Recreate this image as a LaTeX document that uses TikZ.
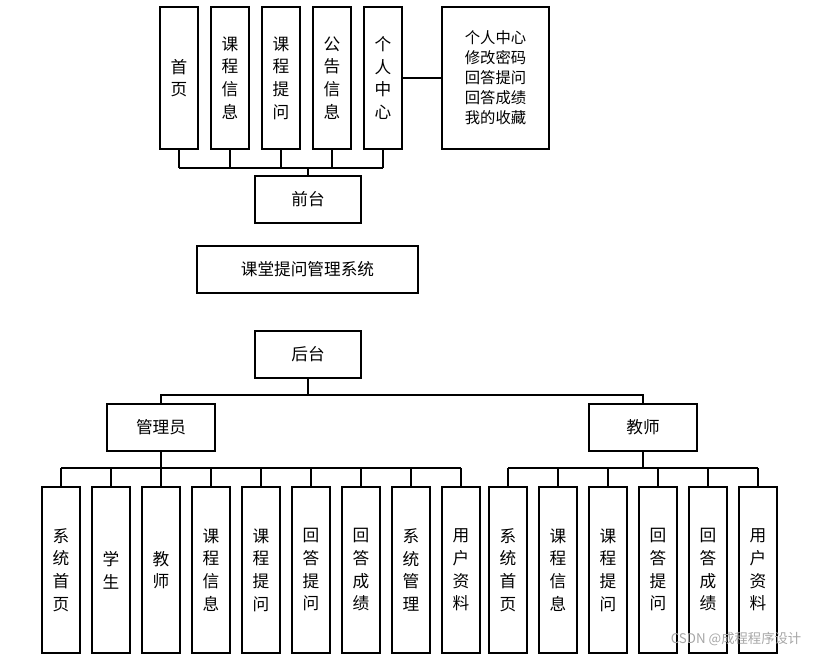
\documentclass[tikz,border=0pt]{standalone}
\usepackage{fontspec}
\newfontfamily\cjk{Noto Sans CJK SC}
\begin{document}
\begin{tikzpicture}[x=0.75pt,y=-0.75pt,
  bx/.style={draw,line width=0.8pt,align=center,inner sep=0pt,font=\cjk\fontsize{12.5}{17}\selectfont},
  vb/.style={bx,minimum width=28.5pt,minimum height=#1},
  hb/.style={bx,minimum height=35.25pt},
  ln/.style={line width=0.8pt}]
\useasboundingbox (0,0) rectangle (819,656);
% top boxes
\foreach \n/\x/\t in {t1/179/首\\页,t2/230/课\\程\\信\\息,t3/281/课\\程\\提\\问,t4/332/公\\告\\信\\息,t5/383/个\\人\\中\\心}
  \node[vb=106.5pt] (\n) at (\x,78) {\t};
\node[bx,minimum width=80.25pt,minimum height=106.5pt,font=\cjk\fontsize{11.5}{15}\selectfont] (pc) at (495.5,78) {个人中心\\修改密码\\回答提问\\回答成绩\\我的收藏};
\draw[ln] (t5.east) -- (pc.west);
\node[hb,minimum width=79.5pt] (qt) at (308,199.5) {前台};
\node[hb,minimum width=165.75pt] (sys) at (307.5,269.5) {课堂提问管理系统};
\node[hb,minimum width=79.5pt] (ht) at (308,354.5) {后台};
\coordinate (bus1) at (0,168);
\foreach \n in {t1,t2,t3,t4,t5} \draw[ln] (\n.south) -- (\n.south|-bus1);
\draw[ln] (t1.south|-bus1) -- (t5.south|-bus1);
\draw[ln] (qt.north) -- (qt.north|-bus1);
% admin/teacher
\node[hb,minimum width=81pt] (adm) at (161,427.5) {管理员};
\node[hb,minimum width=81pt] (tea) at (643,427.5) {教师};
\coordinate (bus2) at (0,395);
\draw[ln] (ht.south) -- (ht.south|-bus2);
\draw[ln] (adm.north) |- (tea.north|-bus2) -- (tea.north);
% bottom boxes
\foreach \i/\t in {0/系\\统\\首\\页,1/学\\生,2/教\\师,3/课\\程\\信\\息,4/课\\程\\提\\问,5/回\\答\\提\\问,6/回\\答\\成\\绩,7/系\\统\\管\\理,8/用\\户\\资\\料}
  \node[vb=124.5pt] (a\i) at (61+50*\i,570) {\t};
\foreach \i/\t in {0/系\\统\\首\\页,1/课\\程\\信\\息,2/课\\程\\提\\问,3/回\\答\\提\\问,4/回\\答\\成\\绩,5/用\\户\\资\\料}
  \node[vb=124.5pt] (b\i) at (508+50*\i,570) {\t};
\coordinate (bus3) at (0,468);
\draw[ln] (adm.south) -- (adm.south|-bus3);
\draw[ln] (tea.south) -- (tea.south|-bus3);
\draw[ln] (a0.north|-bus3) -- (a8.north|-bus3);
\draw[ln] (b0.north|-bus3) -- (b5.north|-bus3);
\foreach \i in {0,...,8} \draw[ln] (a\i.north) -- (a\i.north|-bus3);
\foreach \i in {0,...,5} \draw[ln] (b\i.north) -- (b\i.north|-bus3);
\node[text=gray!70,font=\cjk\fontsize{10}{12}\selectfont,anchor=east] (wm) at (806,639) {CSDN @成程程序设计};
\end{tikzpicture}
\end{document}
